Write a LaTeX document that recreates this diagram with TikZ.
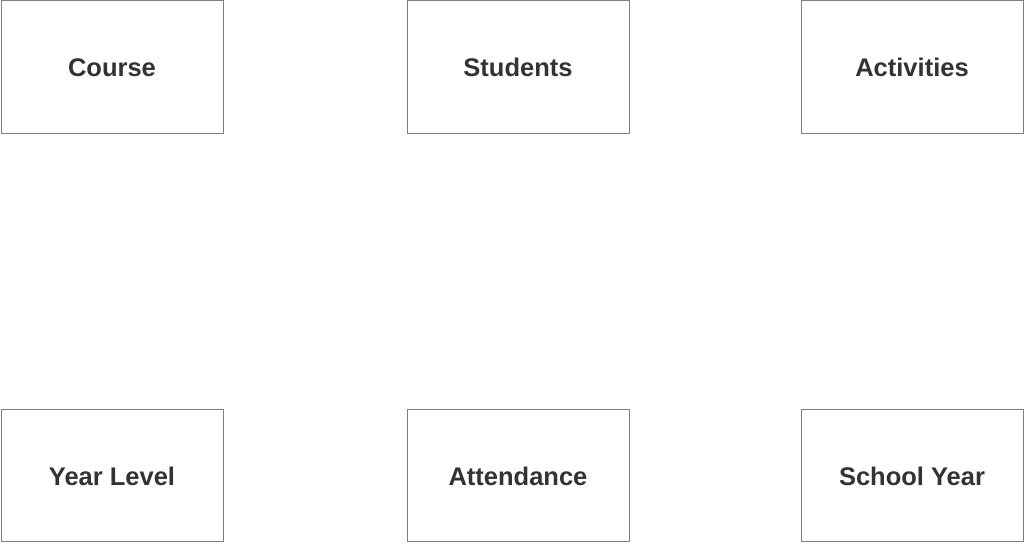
\documentclass[tikz,border=0pt]{standalone}
\usepackage{fontspec}
\setmainfont{Liberation Sans}
\definecolor{boxline}{HTML}{7F7F7F}
\definecolor{boxtext}{HTML}{333333}
\begin{document}
\begin{tikzpicture}[x=1pt,y=-1pt,
  entity/.style={draw=boxline, line width=1pt, fill=white, minimum width=222pt, minimum height=132pt, inner sep=0pt, text=boxtext, font=\fontsize{25.5}{30}\selectfont\bfseries, text depth=0pt, text height=18pt}]
\useasboundingbox (0,0) rectangle (1024,543);
\node[entity] (course) at (112,67) {\raisebox{-1pt}{Course}};
\node[entity] (students) at (518,67) {\raisebox{-1pt}{Students}};
\node[entity] (activities) at (912,67) {\raisebox{-1pt}{Activities}};
\node[entity] (yearlevel) at (112,475) {\raisebox{-1pt}{Year Level}};
\node[entity] (attendance) at (518,475) {\raisebox{-1pt}{Attendance}};
\node[entity] (schoolyear) at (912,475) {\raisebox{-1pt}{School Year}};
\end{tikzpicture}
\end{document}
